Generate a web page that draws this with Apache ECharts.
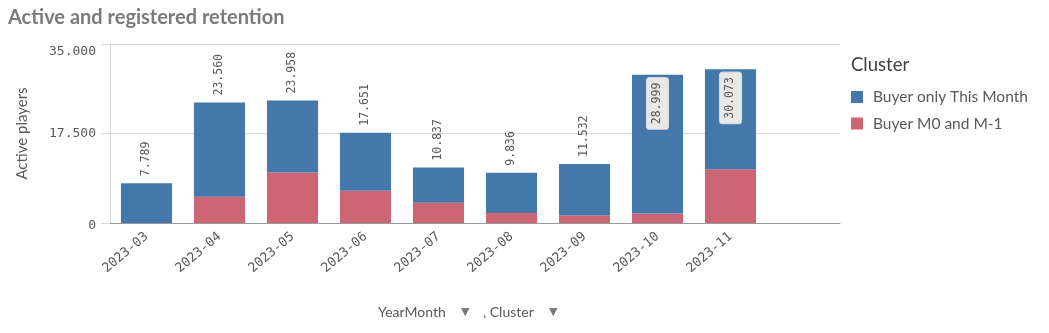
<!DOCTYPE html>
<html>
<head>
<meta charset="utf-8">
<script src="https://cdn.jsdelivr.net/npm/echarts@6/dist/echarts.min.js"></script>
<style>
  html, body { margin: 0; padding: 0; background: #fff; }
  #chart { width: 1049px; height: 333px; }
</style>
</head>
<body>
<div id="chart"></div>
<script>
// Months shown on the x axis (last slot is left empty)
const months = ['2023-03', '2023-04', '2023-05', '2023-06', '2023-07', '2023-08', '2023-09', '2023-10', '2023-11', ''];
// Players who bought in both M0 and M-1
const buyerM0M1 = [0, 5130, 9860, 6310, 3940, 1970, 1460, 1850, 10500];
// Players who bought only in the current month
const buyerOnlyThisMonth = [7789, 18430, 14098, 11341, 6897, 7866, 10072, 27149, 19573];
// Value axis ticks
const yTicks = [0, 17500, 35000];

const seriesNames = ['Buyer only This Month', 'Buyer M0 and M-1'];
const colors = { only: '#4477aa', both: '#cc6677' };

const fmt = v => String(v).replace(/\B(?=(\d{3})+(?!\d))/g, '.');
const totals = buyerOnlyThisMonth.map((v, i) => v + buyerM0M1[i]);

const mono = '"DejaVu Sans Mono", monospace';
const sans = 'Lato, "Noto Sans", sans-serif';

// Bars whose totals sit inside the bar in a grey box
const insideFrom = 7;

const onlyData = buyerOnlyThisMonth.map((v, i) => {
  if (i < insideFrom) return v;
  return {
    value: v,
    label: {
      position: 'insideTop',
      distance: 3,
      align: 'right',
      verticalAlign: 'middle',
      backgroundColor: '#e8e8e8',
      borderColor: '#cfcfcf',
      borderWidth: 0.6,
      borderRadius: 3,
      padding: [5, 5, 5, 5]
    }
  };
});

const yMax = yTicks[yTicks.length - 1];
const yLabelStyle = { fontFamily: mono, fontSize: 13, color: '#595959' };

const chart = echarts.init(document.getElementById('chart'));
chart.setOption({
  animation: false,
  title: [
    {
      text: 'Active and registered retention',
      left: 3, top: 3,
      textStyle: { fontFamily: sans, fontSize: 20, fontWeight: 'bold', color: '#7b7b7b' }
    },
    {
      text: 'Cluster',
      left: 846, top: 51,
      textStyle: { fontFamily: sans, fontSize: 18.5, fontWeight: 'normal', color: '#404040' }
    }
  ],
  legend: {
    data: seriesNames,
    orient: 'vertical',
    left: 846, top: 84,
    itemWidth: 12, itemHeight: 12, itemGap: 10.5,
    icon: 'rect',
    textStyle: { fontFamily: sans, fontSize: 15.5, color: '#595959', padding: [0, 0, 0, 5] },
    selectedMode: false
  },
  grid: { left: 110, right: 209, top: 44, bottom: 110, containLabel: false },
  xAxis: {
    type: 'category',
    data: months,
    axisLine: { lineStyle: { color: '#9a9a9a', width: 1 } },
    axisTick: { show: false },
    axisLabel: {
      interval: 0, rotate: 40, margin: 12,
      padding: [24, 0, 0, 0],
      fontFamily: mono, fontSize: 13, color: '#595959'
    }
  },
  yAxis: {
    type: 'value',
    min: yTicks[0], max: yMax, interval: yTicks[1] - yTicks[0],
    name: 'Active players',
    nameLocation: 'middle',
    nameGap: 80,
    nameTextStyle: { fontFamily: sans, fontSize: 15, color: '#595959' },
    axisLine: { show: true, lineStyle: { color: '#d9d9d9' } },
    axisTick: { show: true, length: 9, lineStyle: { color: '#d9d9d9' } },
    splitLine: { lineStyle: { color: '#d9d9d9' } },
    axisLabel: {
      margin: 14,
      ...yLabelStyle,
      formatter: v => {
        if (v === yMax) return '{top|' + fmt(v) + '}';
        if (v === yTicks[0]) return '{base|' + fmt(v) + '}';
        return fmt(v);
      },
      rich: {
        top: { ...yLabelStyle, padding: [16, 0, 0, 0] },
        base: { ...yLabelStyle, padding: [5, 0, 0, 0] }
      }
    }
  },
  series: [
    {
      name: seriesNames[1],
      type: 'bar',
      stack: 'total',
      barWidth: '70%',
      data: buyerM0M1,
      itemStyle: { color: colors.both }
    },
    {
      name: seriesNames[0],
      type: 'bar',
      stack: 'total',
      barWidth: '70%',
      data: onlyData,
      itemStyle: { color: colors.only },
      label: {
        show: true,
        position: 'top',
        distance: 7,
        rotate: 90,
        align: 'left',
        verticalAlign: 'middle',
        fontFamily: mono, fontSize: 11.5, color: '#595959',
        formatter: p => fmt(totals[p.dataIndex])
      }
    }
  ],
  graphic: [
    {
      type: 'text', left: 378, top: 305,
      style: { text: 'YearMonth', font: '14px ' + sans, fill: '#595959' }
    },
    {
      type: 'text', left: 461, top: 307,
      style: { text: '▼', font: '11px "DejaVu Sans"', fill: '#7a7a7a' }
    },
    {
      type: 'text', left: 483, top: 305,
      style: { text: ', Cluster', font: '14px ' + sans, fill: '#595959' }
    },
    {
      type: 'text', left: 549, top: 307,
      style: { text: '▼', font: '11px "DejaVu Sans"', fill: '#7a7a7a' }
    }
  ]
});
</script>
</body>
</html>
